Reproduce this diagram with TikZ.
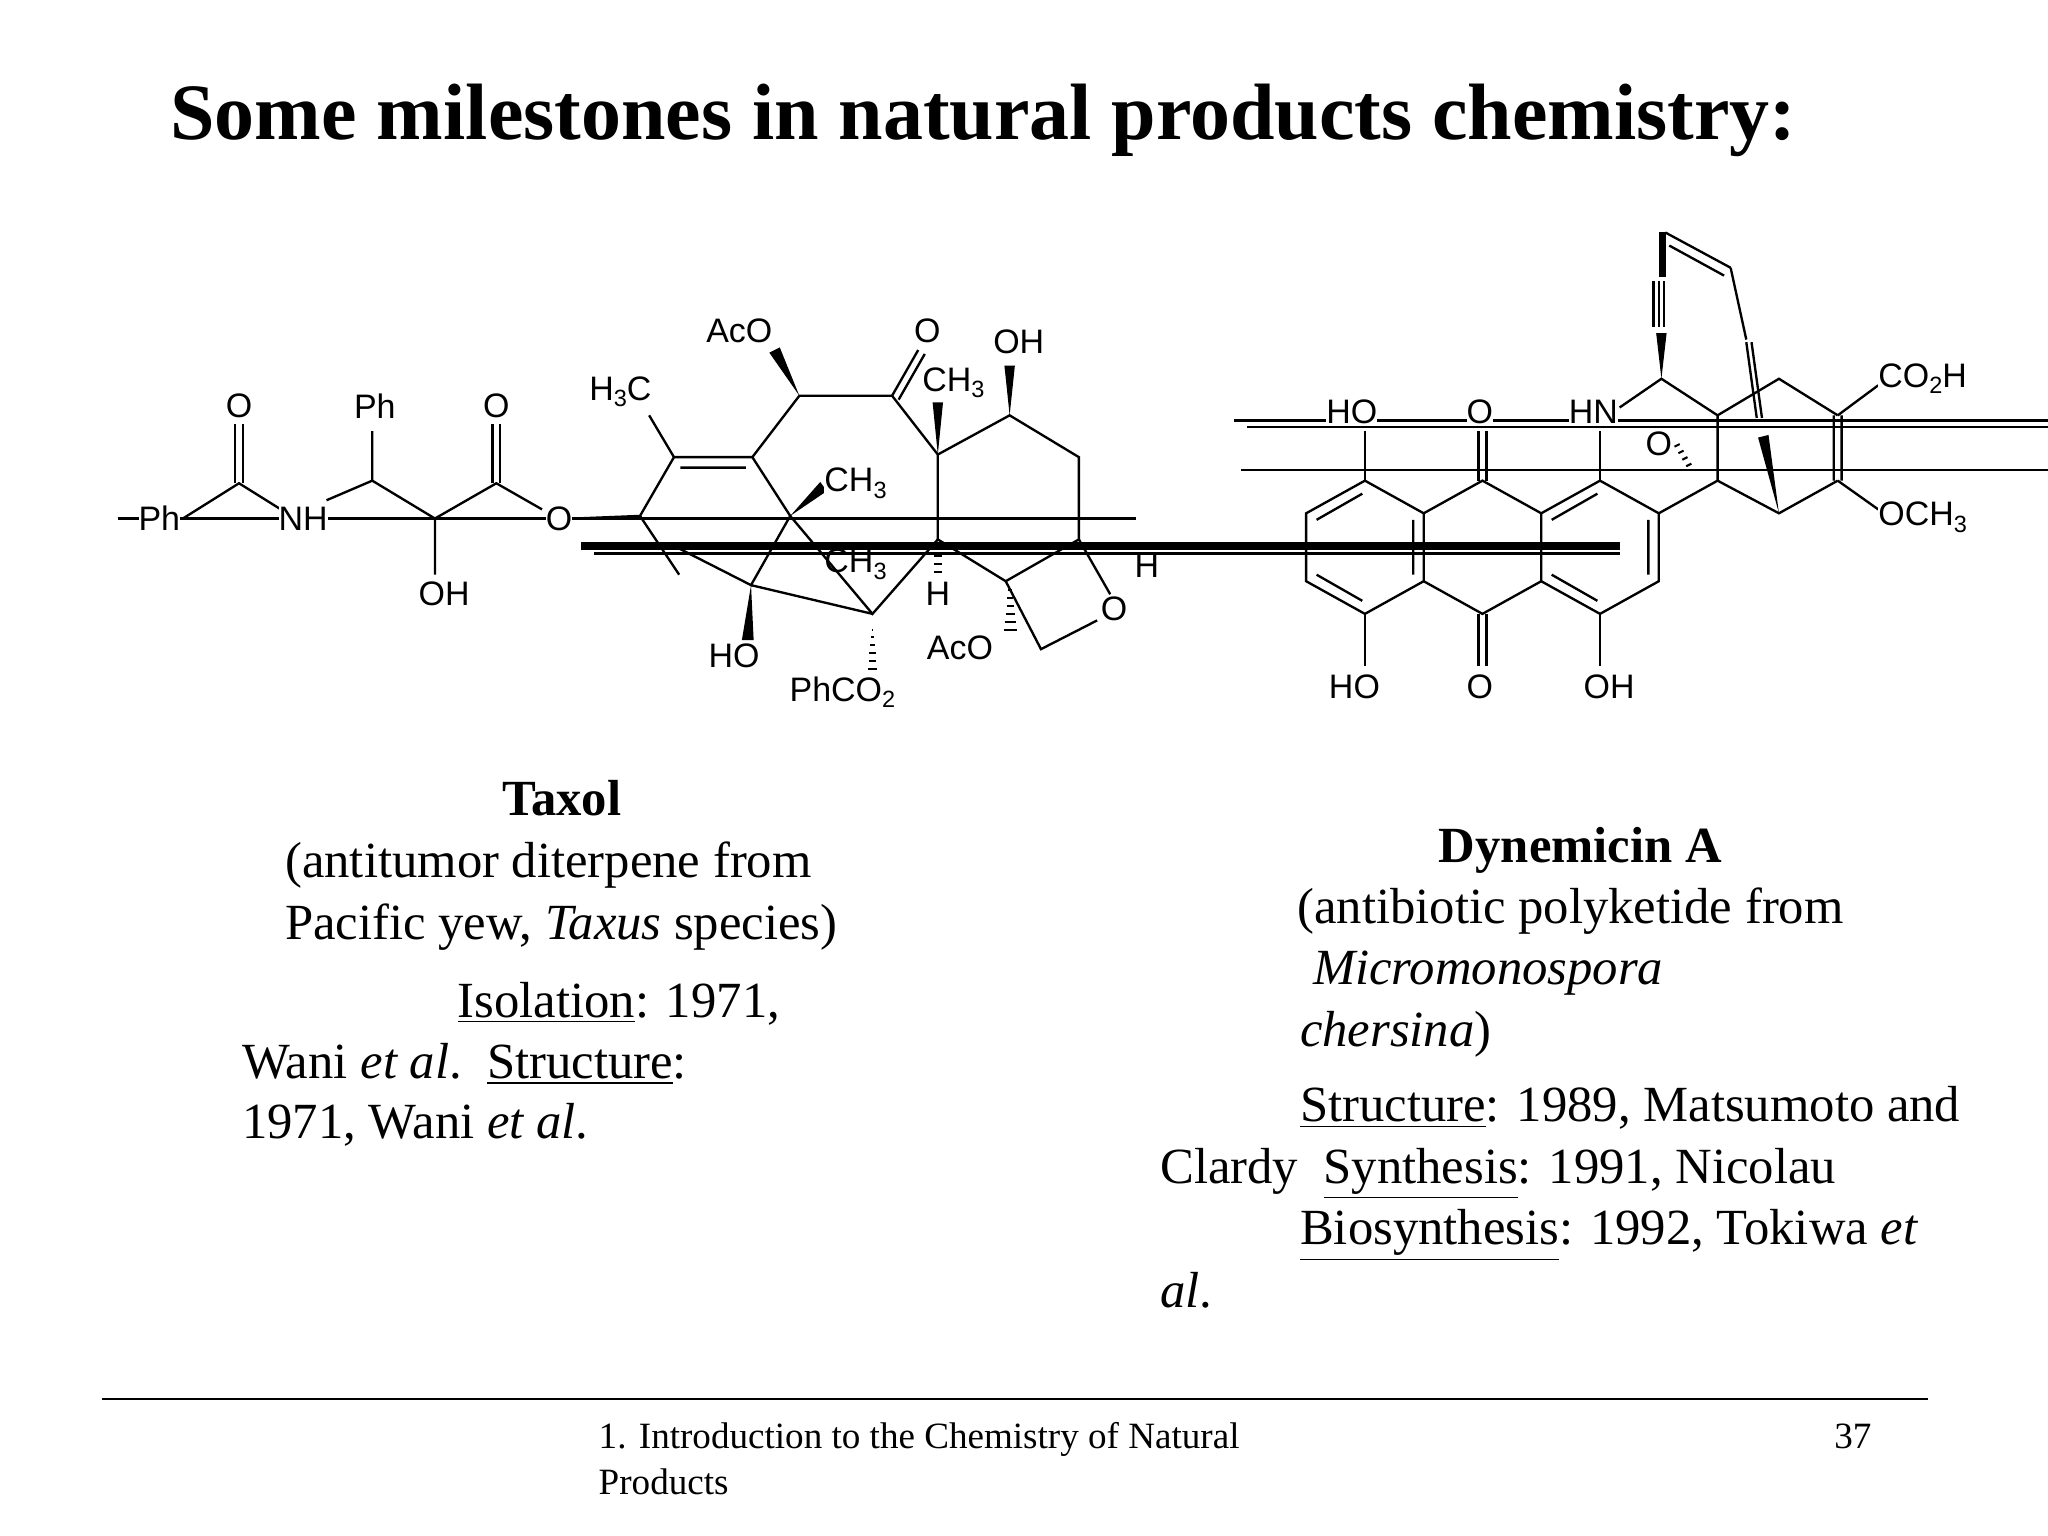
\documentclass[tikz,border=0pt]{standalone}
\usepackage{fontspec}
\setmainfont{Liberation Serif}
\newfontfamily\chemf{Liberation Sans}
\newcommand{\sbs}[1]{\raisebox{-0.35ex}{\fontsize{9}{9}\selectfont #1}}
\begin{document}
\begin{tikzpicture}[x=0.5pt,y=-0.5pt,
  bd/.style={line width=0.9pt},
  lab/.style={font=\chemf\fontsize{13}{13}\selectfont,inner sep=0pt,fill=white},
  body/.style={font=\fontsize{19.4}{24}\selectfont,anchor=base west,inner sep=0pt},
  foot/.style={font=\fontsize{14.2}{17}\selectfont,anchor=base west,inner sep=0pt}]
\useasboundingbox (0,0) rectangle (1568,1176);
\node[font=\bfseries\fontsize{30.6}{36}\selectfont] (title) at (753,92) {Some milestones in natural products chemistry:};
% garbled lines
\draw[bd] (90,397) -- (870,397);
\draw[line width=3pt] (445,418) -- (1240,418);
\draw[line width=1.2pt] (455,424) -- (1240,424);
\draw[bd] (945,322) -- (1568,322);
\draw[bd] (955,327) -- (1568,327);
\draw[bd] (950,360) -- (1568,360);
% Taxol side chain
\draw[bd] (140,397)--(183,370)--(215,390);
\draw[bd] (180,370)--(180,325) (186,370)--(186,325);
\draw[bd] (250,383)--(285,368)--(285,330);
\draw[bd] (285,368)--(333,397)--(333,440);
\draw[bd] (333,397)--(380,370)--(415,390);
\draw[bd] (377,370)--(377,325) (383,370)--(383,325);
\node[lab] (ph1) at (122,397) {Ph};
\node[lab] (o1) at (183,311) {O};
\node[lab] (nh) at (232,397) {NH};
\node[lab] (ph2) at (287,311) {Ph};
\node[lab] (oh1) at (340,455) {OH};
\node[lab] (o2) at (380,311) {O};
\node[lab] (o3) at (428,397) {O};
% Taxol core
\draw[bd] (440,397)--(490,395)--(516,350)--(576,350)--(612,303)--(683,303)--(718,348)--(773,318)--(826,350)--(826,413)--(770,445)--(718,413)--(718,348);
\draw[bd] (497,318)--(516,350) (521,358)--(571,358);
\draw[bd] (683,303)--(703,268) (688,306)--(708,271);
\draw[bd] (576,350)--(605,395)--(575,448)--(520,420) (490,395)--(520,440);
\draw[bd] (605,395)--(668,470)--(718,413) (668,470)--(575,448);
\draw[bd] (770,445)--(797,497)--(840,475) (826,413)--(850,455);
\fill (612,303)--(589,270)--(597,266)--cycle;
\fill (718,348)--(714,308)--(722,308)--cycle;
\fill (773,318)--(769,280)--(777,280)--cycle;
\fill (605,395)--(628,369)--(633,376)--cycle;
\fill (575,448)--(568,490)--(577,490)--cycle;
\foreach \i in {0,...,6}{\draw[line width=0.8pt] (668-\i*0.6,476+\i*6)--(668+\i*0.6,476+\i*6);}
\foreach \i in {0,...,5}{\draw[line width=0.8pt] (772-\i*0.7,452+\i*6)--(775+\i*0.7,452+\i*6);}
\foreach \i in {0,...,3}{\draw[line width=0.8pt] (715,420+\i*6)--(721,420+\i*6);}
\node[lab] (aco1) at (566,253) {AcO};
\node[lab] (ox) at (710,253) {O};
\node[lab] (oh2) at (780,262) {OH};
\node[lab] (h3c) at (475,300) {H\sbs{3}C};
\node[lab] (ch3a) at (730,293) {CH\sbs{3}};
\node[lab] (ch3b) at (655,370) {CH\sbs{3}};
\node[lab,fill=none] (ch3c) at (655,432) {CH\sbs{3}};
\node[lab,fill=none] (h1) at (718,455) {H};
\node[lab,fill=none] (h2) at (878,433) {H};
\node[lab] (o4) at (853,466) {O};
\node[lab] (ho1) at (562,502) {HO};
\node[lab] (aco2) at (735,496) {AcO};
\node[lab] (phco) at (645,530) {PhCO\sbs{2}};
% Dynemicin rings
\draw[bd] (1045,368)--(1090,393)--(1090,445)--(1045,470)--(1000,445)--(1000,393)--cycle;
\draw[bd] (1090,393)--(1135,368)--(1180,393)--(1180,445)--(1135,470)--(1090,445);
\draw[bd] (1180,393)--(1225,368)--(1270,393)--(1270,445)--(1225,470)--(1180,445);
\draw[bd] (1008,398)--(1043,378) (1008,440)--(1043,460) (1082,398)--(1082,440);
\draw[bd] (1188,398)--(1223,378) (1188,440)--(1223,460) (1262,398)--(1262,440);
\draw[bd] (1045,368)--(1045,330) (1225,368)--(1225,330);
\draw[bd] (1132,368)--(1132,330) (1138,368)--(1138,330);
\draw[bd] (1045,470)--(1045,510) (1225,470)--(1225,510);
\draw[bd] (1132,470)--(1132,510) (1138,470)--(1138,510);
\draw[bd] (1270,393)--(1315,368)--(1315,318)--(1272,290)--(1240,312);
\draw[bd] (1315,368)--(1362,393)--(1407,368) (1404,368)--(1404,318) (1410,368)--(1410,318);
\draw[bd] (1407,318)--(1362,290)--(1315,318);
\draw[bd] (1407,318)--(1438,295) (1407,368)--(1438,390);
\fill (1272,290)--(1268,255)--(1276,255)--cycle;
\draw[bd] (1266,250)--(1266,215) (1270,250)--(1270,215) (1274,250)--(1274,215);
\draw[line width=2.5pt] (1273,178)--(1273,212);
\draw[bd] (1275,178)--(1325,205) (1278,188)--(1320,211);
\draw[bd] (1325,205)--(1337,260) (1337,262)--(1345,320) (1341,262)--(1349,320);
\fill (1362,393)--(1346,335)--(1354,333)--cycle;
\foreach \i in {0,...,3}{\draw[line width=0.8pt] (1282+\i*3,342+\i*5)--(1286+\i*3,340+\i*5);}
\node[lab] (ho2) at (1035,315) {HO};
\node[lab] (o5) at (1133,315) {O};
\node[lab] (hn) at (1220,315) {HN};
\node[lab,fill=none] (o6) at (1270,340) {O};
\node[lab] (co2h) at (1472,290) {CO\sbs{2}H};
\node[lab] (och3) at (1472,396) {OCH\sbs{3}};
\node[lab] (ho3) at (1037,526) {HO};
\node[lab] (o7) at (1133,526) {O};
\node[lab] (oh3) at (1232,526) {OH};
% captions
\node[font=\bfseries\fontsize{19.4}{24}\selectfont,anchor=base] (tx) at (430,624) {Taxol};
\node[body] (t1) at (218,672) {(antitumor diterpene from};
\node[body] (t2) at (218,719) {Pacific yew, \textit{Taxus} species)};
\node[body] (t3) at (350,779) {\underline{Isolation}: 1971,};
\node[body] (t4) at (185,826) {Wani \textit{et al}.\ \ \underline{Structure}:};
\node[body] (t5) at (185,872) {1971, Wani \textit{et al}.};
\node[font=\bfseries\fontsize{19.4}{24}\selectfont,anchor=base] (dy) at (1210,660) {Dynemicin A};
\node[body] (d1) at (993,707) {(antibiotic polyketide from};
\node[body] (d2) at (1005,754) {\textit{Micromonospora}};
\node[body] (d3) at (995,801) {\textit{chersina})};
\node[body] (d4) at (995,859) {\underline{Structure}: 1989, Matsumoto and};
\node[body] (d5) at (888,906) {Clardy\ \ \underline{Synthesis}: 1991, Nicolau};
\node[body] (d6) at (995,953) {\underline{Biosynthesis}: 1992, Tokiwa \textit{et}};
\node[body] (d7) at (888,1001) {\textit{al}.};
% footer
\draw[line width=1pt] (78,1071)--(1476,1071);
\node[foot] (f1) at (458,1109) {1. Introduction to the Chemistry of Natural};
\node[foot] (f2) at (458,1144) {Products};
\node[foot] (f3) at (1404,1109) {37};
\end{tikzpicture}
\end{document}
